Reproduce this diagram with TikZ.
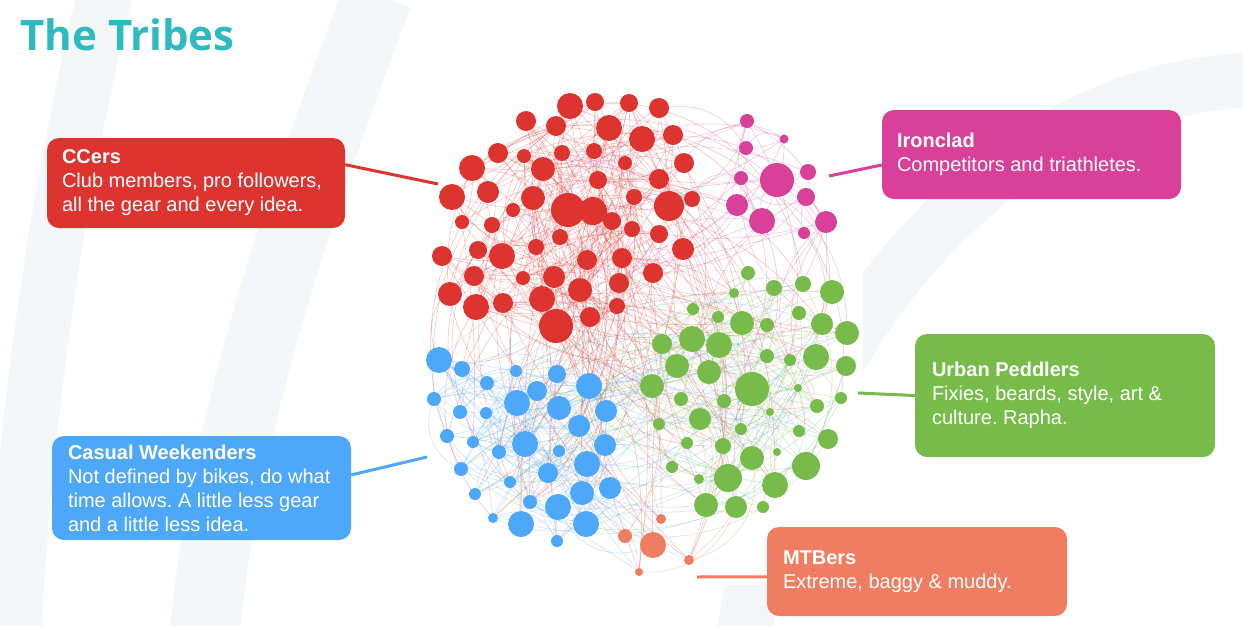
\documentclass[tikz,border=0pt]{standalone}
\usepackage{fontspec}
\setmainfont{Liberation Sans}
\newfontfamily\titlefont{Open Sans}
\usepackage{tikz}
\usetikzlibrary{positioning}
\definecolor{ccred}{HTML}{DD3430}
\definecolor{ironpink}{HTML}{D9409A}
\definecolor{urbgreen}{HTML}{77BB4A}
\definecolor{casblue}{HTML}{4DA8FA}
\definecolor{mtbsalmon}{HTML}{EF7D62}
\definecolor{tribeteal}{HTML}{2EBBBF}
\definecolor{bandgray}{HTML}{F4F7FA}
\frenchspacing

\pgfdeclarelayer{back}
\pgfdeclarelayer{links}
\pgfsetlayers{back,links,main}

% random links between two groups of dots
\newcommand\linkmany[6]{%
  \foreach \k in {1,...,#6}{%
    \pgfmathrandominteger{\pa}{1}{#3}%
    \pgfmathrandominteger{\pb}{1}{#5}%
    \pgfmathrandominteger{\pc}{-45}{45}%
    \ifnum\pa=\pb\relax\else\draw[#1] (#2\pa) to[bend left=\pc] (#4\pb);\fi
  }}

\begin{document}
\begin{tikzpicture}[x=1pt, y=-1pt, node distance=15pt,
  dot/.style={circle, inner sep=0pt, outer sep=0pt, draw=none},
  tribe/.style={rounded corners=12pt, inner sep=0pt},
  tribetext/.style={inner sep=0pt, align=left, text=white, font=\fontsize{20}{24}\selectfont},
  pointer/.style={line width=3pt},
  link/.style={line width=.6pt, draw opacity=.28},
  band/.style={draw=bandgray, line cap=butt}]
\useasboundingbox (0,0) rectangle (1243,625);

\begin{pgfonlayer}{back}
\draw[band, line width=55] (105,-5) .. controls (55,200) and (25,420) .. (14,630);
\draw[band, line width=70] (378,-5) .. controls (300,200) and (225,420) .. (205,630);
\draw[band, line width=55] (745,630) .. controls (790,330) and (1000,90) .. (1250,80);
\fill[white] (400,87) rectangle (863,585);
\end{pgfonlayer}

\node[anchor=base west, text=tribeteal, font=\titlefont\bfseries\fontsize{42}{42}\selectfont] (title) at (17,50) {The Tribes};

\foreach \x/\y/\r [count=\i] in {570/106/13, 595/102/9, 629/103/9, 659/108/10, 526/121/10, 556/126/10,
  609/128/13, 642/139/13, 673/135/10, 498/153/10, 524/156/7, 562/153/8, 594/151/8, 625/163/7,
  684/163/10, 472/168/13, 543/169/12, 598/180/9, 659/179/10, 452/197/13, 488/192/11, 533/198/12,
  513/210/7, 568/210/17, 593/211/14, 612/221/9, 634/197/8, 669/206/15, 692/199/8, 462/222/7,
  492/225/8, 560/237/8, 632/229/8, 659/234/9, 442/256/10, 478/250/9, 502/256/13, 536/247/8,
  587/260/10, 622/258/10, 683/249/11, 474/276/10, 523/278/7, 554/277/11, 619/283/10, 653/273/10,
  580/290/12, 450/294/12, 476/307/13, 503/303/10, 542/299/13, 617/306/8, 590/317/10, 556/326/17}
  \node[dot, fill=ccred, minimum size=2*\r] (r\i) at (\x,\y) {};

\foreach \x/\y/\r [count=\i] in {747/121/7, 784/139/4.5, 746/148/7, 777/180/17, 808/172/8, 741/178/7,
  806/197/9, 737/205/11, 762/221/13, 826/222/11, 804/233/6}
  \node[dot, fill=ironpink, minimum size=2*\r] (m\i) at (\x,\y) {};

\foreach \x/\y/\r [count=\i] in {748/273/7, 774/288/8, 803/284/8, 832/292/12, 734/293/5, 693/309/6,
  718/317/6, 742/323/12, 767/325/7, 799/313/7, 822/324/11, 847/333/12, 662/344/10, 692/339/13,
  719/345/13, 767/356/7, 790/360/6, 816/357/13, 846/366/10, 677/366/12, 709/372/12, 652/386/12,
  752/389/17, 798/388/4, 681/399/7, 724/401/7, 817/406/7, 841/398/6, 770/412/4, 700/419/11,
  659/424/6, 741/429/6, 799/431/6, 828/439/10, 687/443/6, 723/446/8, 752/458/12, 777/452/4,
  806/466/14, 672/467/6, 699/479/5, 728/478/14, 775/485/13, 706/505/12, 736/507/11, 763/507/6}
  \node[dot, fill=urbgreen, minimum size=2*\r] (g\i) at (\x,\y) {};

\foreach \x/\y/\r [count=\i] in {439/360/13, 462/369/8, 516/371/6, 487/383/7, 557/374/9, 589/386/13,
  434/399/7, 460/412/7, 486/413/6, 517/403/13, 537/391/10, 559/408/12, 606/411/11, 579/426/11,
  447/436/7, 473/442/6, 499/452/7, 525/444/13, 559/451/6, 605/445/11, 587/464/13, 461/469/7,
  548/473/10, 510/482/6, 582/493/12, 610/488/11, 475/494/6, 530/502/7, 558/507/13, 493/518/5,
  521/524/13, 586/524/13, 557/541/6}
  \node[dot, fill=casblue, minimum size=2*\r] (b\i) at (\x,\y) {};

\foreach \x/\y/\r [count=\i] in {661/519/5, 625/536/7, 653/545/13, 689/560/5, 639/572/4}
  \node[dot, fill=mtbsalmon, minimum size=2*\r] (s\i) at (\x,\y) {};

\begin{pgfonlayer}{links}
\pgfmathsetseed{31}
\linkmany{link, ccred}{r}{54}{r}{54}{150}
\linkmany{link, ccred}{r}{54}{g}{46}{70}
\linkmany{link, ccred}{r}{54}{b}{33}{60}
\linkmany{link, ccred}{r}{54}{s}{5}{14}
\linkmany{link, ironpink}{m}{11}{r}{54}{28}
\linkmany{link, ironpink}{m}{11}{m}{11}{16}
\linkmany{link, ironpink}{m}{11}{g}{46}{12}
\linkmany{link, urbgreen}{g}{46}{g}{46}{90}
\linkmany{link, urbgreen}{g}{46}{b}{33}{30}
\linkmany{link, casblue}{b}{33}{b}{33}{90}
\linkmany{link, casblue}{b}{33}{g}{46}{45}
\linkmany{link, casblue}{b}{33}{s}{5}{8}
\linkmany{link, mtbsalmon}{s}{5}{g}{46}{6}
\end{pgfonlayer}

\node[tribe, fill=ccred, minimum width=298pt, minimum height=90pt] (ccers) at (196,183) {};
\node[tribetext, right=of ccers.west] (ccerstext)
  {\textbf{CCers}\\Club members, pro followers,\\all the gear and every idea.};
\node[tribe, fill=ironpink, minimum width=299pt, minimum height=89pt] (iron) at (1031.5,154.5) {};
\node[tribetext, right=of iron.west] (irontext)
  {\textbf{Ironclad}\\Competitors and triathletes.};
\node[tribe, fill=urbgreen, minimum width=300pt, minimum height=123pt] (urban) at (1065,395.5) {};
\node[tribetext, right=17pt of urban.west] (urbantext)
  {\textbf{Urban Peddlers}\\Fixies, beards, style, art \&\\culture. Rapha.};
\node[tribe, fill=casblue, minimum width=299pt, minimum height=104pt] (casual) at (201.5,488) {};
\node[tribetext, right=16pt of casual.west] (casualtext)
  {\textbf{Casual Weekenders}\\Not defined by bikes, do what\\time allows. A little less gear\\and a little less idea.};
\node[tribe, fill=mtbsalmon, minimum width=300pt, minimum height=89pt] (mtb) at (917,571.5) {};
\node[tribetext, right=16pt of mtb.west] (mtbtext)
  {\textbf{MTBers}\\Extreme, baggy \& muddy.};

\coordinate (ccersend) at (438,184);
\coordinate (ironend) at (829,176);
\coordinate (urbanend) at (858,393);
\coordinate (casualend) at (427,457);
\coordinate (mtbend) at (697,577);
\draw[pointer, ccred] (ccers.7) -- (ccersend);
\draw[pointer, ironpink] (iron.184) -- (ironend);
\draw[pointer, urbgreen] (urban.west) -- (urbanend);
\draw[pointer, casblue] (casual.5) -- (casualend);
\draw[pointer, mtbsalmon] (mtb.182) -- (mtbend);
\end{tikzpicture}
\end{document}
